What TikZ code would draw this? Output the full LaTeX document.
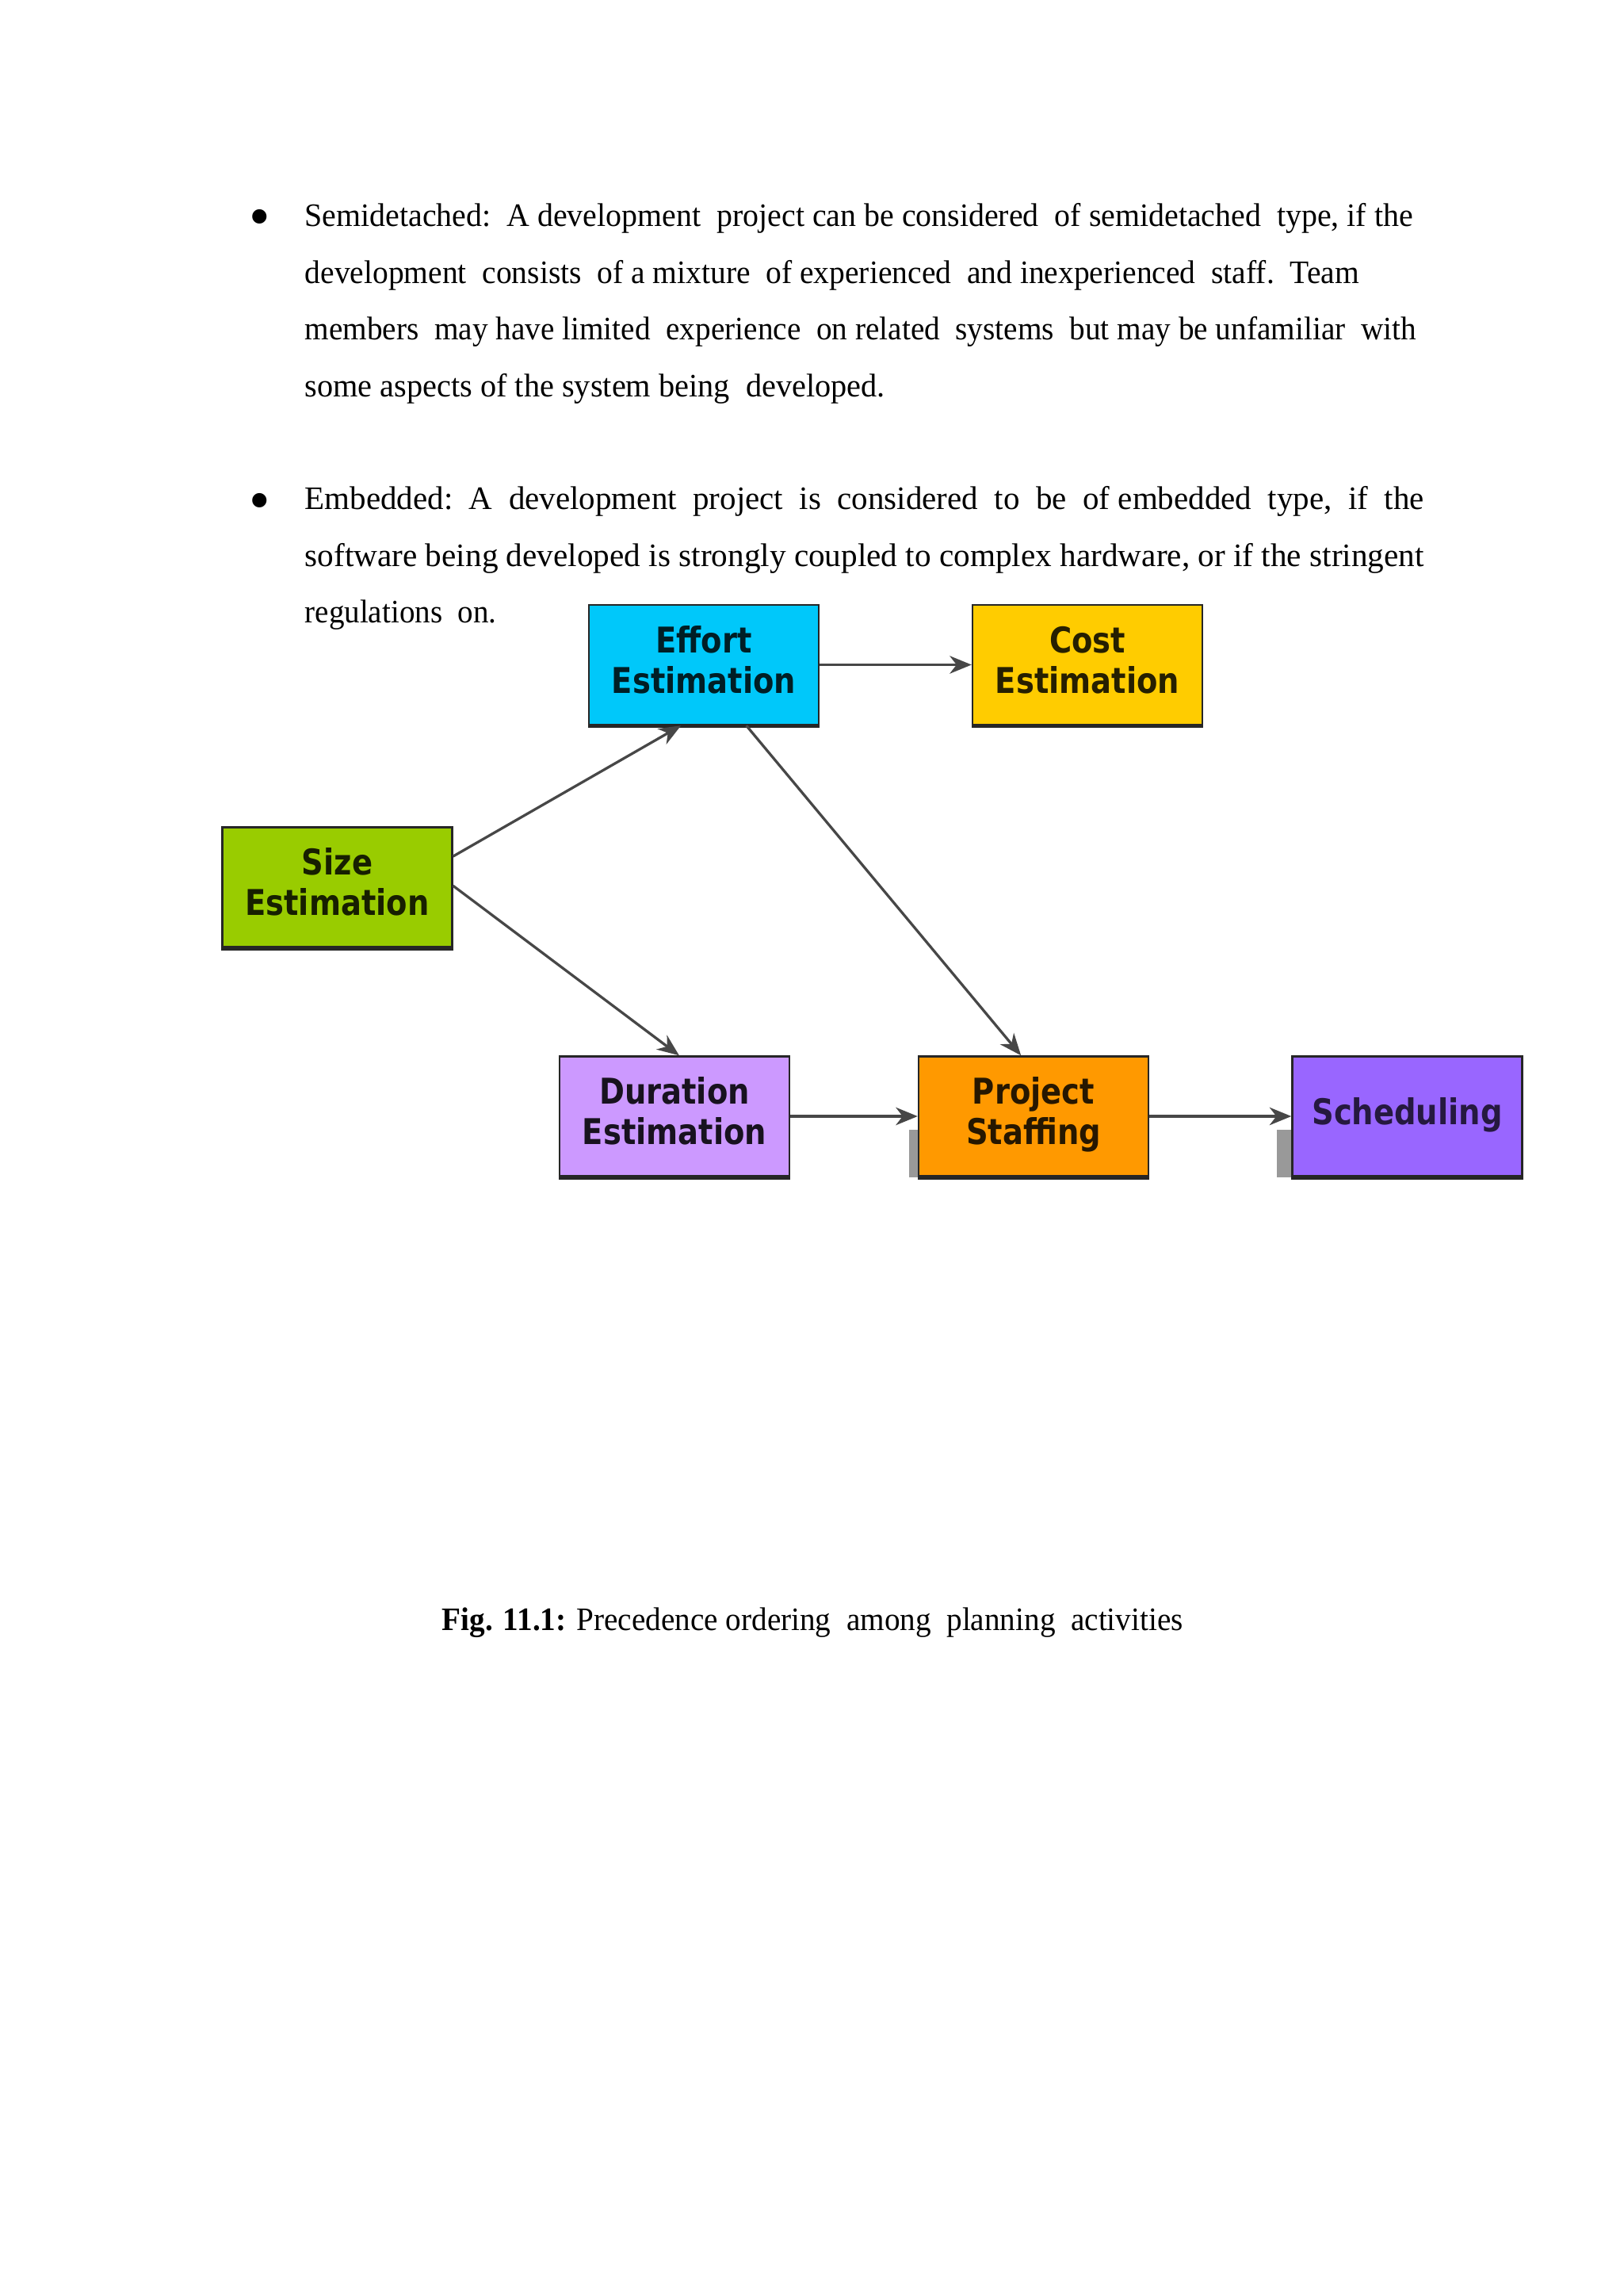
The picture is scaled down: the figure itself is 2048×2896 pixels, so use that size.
\documentclass[tikz,border=0pt]{standalone}
\usepackage{fontspec}
\setmainfont{Liberation Serif}
\newfontfamily\boxfont{DejaVu Sans}
\usepackage{graphicx}
\usetikzlibrary{arrows.meta,calc}
\newlength\pxu \setlength\pxu{0.29053pt}
\newcommand\fitline[2]{\resizebox{#1\pxu}{\height}{#2}}
\newcommand\blab[1]{\scalebox{0.86}[1]{\begin{tabular}{@{}c@{}}#1\end{tabular}}}
\definecolor{effc}{HTML}{00C8FA}
\definecolor{costc}{HTML}{FFCC00}
\definecolor{sizec}{HTML}{99CC00}
\definecolor{durc}{HTML}{CC99FF}
\definecolor{stafc}{HTML}{FF9900}
\definecolor{schc}{HTML}{9966FF}
\tikzset{
  pbox/.style={draw=black!85, line width=0.7pt, minimum width=84.25pt, minimum height=43.9pt,
    inner sep=0pt, font=\boxfont\bfseries\fontsize{13}{14.8}\selectfont},
  botline/.style={draw=black!85, line width=1.6pt},
  link/.style={draw=black!72, line width=0.95pt, -{Stealth[length=8pt,width=6.5pt,inset=2.5pt]}},
  bodytext/.style={anchor=base west, inner sep=0pt, font=\fontsize{12}{14}\selectfont},
  bul/.style={inner sep=0pt, font=\fontsize{22}{22}\selectfont},
  shade/.style={fill=black!40}
}
\begin{document}
\begin{tikzpicture}[x=0.29053pt,y=-0.29053pt]
\useasboundingbox[fill=white] (0,0) rectangle (2048,2896);

% body text
\node[bul] (b1) at (328,281) {•};
\node[bodytext] (l1) at (384,286) {\fitline{1398}{Semidetached:\ \ A development\ \ project can be considered\ \ of semidetached\ \ type,\ if the}};
\node[bodytext] (l2) at (384,357.5) {\fitline{1330}{development\ \ consists\ \ of a mixture\ \ of experienced\ \ and inexperienced\ \ staff.\ \ Team}};
\node[bodytext] (l3) at (384,429) {\fitline{1402}{members\ \ may have limited\ \ experience\ \ on related\ \ systems\ \ but\ may be unfamiliar\ \ with}};
\node[bodytext] (l4) at (384,500.5) {\fitline{732}{some\ aspects of the\ system\ being\ \ developed.}};
\node[bul] (b2) at (328,639) {•};
\node[bodytext] (l5) at (384,643) {\fitline{1412}{Embedded:\ \ A\ \ development\ \ project\ \ is\ \ considered\ \ to\ \ be\ \ of\ embedded\ \ type,\ \ if\ \ the}};
\node[bodytext] (l6) at (384,714.5) {\fitline{1412}{software being developed is strongly coupled to complex hardware, or if the stringent}};
\node[bodytext] (l7) at (384,786) {\fitline{242}{regulations\ \ on.}};

% boxes
\node[pbox, fill=effc, text=effc!15!black] (eff) at (888,838.5) {\blab{Effort\\Estimation}};
\node[pbox, fill=costc, text=costc!15!black] (cost) at (1372,838.5) {\blab{Cost\\Estimation}};
\node[pbox, fill=sizec, text=sizec!15!black] (size) at (425.5,1119) {\blab{Size\\Estimation}};
\node[pbox, fill=durc, text=durc!12!black] (dur) at (851,1408) {\blab{Duration\\Estimation}};
\node[pbox, fill=stafc, text=stafc!15!black] (staff) at (1304,1408) {\blab{Project\\Staffing}};
\node[pbox, fill=schc, text=schc!25!black] (sched) at (1775.5,1408) {\blab{Scheduling}};

\foreach \n in {eff,cost,size,dur,staff,sched}
  \draw[botline] (\n.south west) -- (\n.south east);

\fill[shade] ([xshift=-5.2pt]sched.south west) rectangle ([yshift=-5pt]sched.west);
\fill[shade] ([xshift=-3pt]staff.south west) rectangle ([yshift=-5pt]staff.west);

% connectors
\draw[link] (eff.east) -- (cost.west);
\draw[link] ([yshift=11.3pt]size.east) -- ([xshift=-8.4pt]eff.south);
\draw[link] ([yshift=0.5pt]size.east) -- ([xshift=1.7pt]dur.north);
\draw[link] ([xshift=15.6pt]eff.south) -- ([xshift=-4.6pt]staff.north);
\draw[link] (dur.east) -- (staff.west);
\draw[link] (staff.east) -- (sched.west);

% caption
\node[bodytext] (cap) at (557,2056) {\fitline{935}{\textbf{Fig. 11.1:} Precedence ordering\ \ among\ \ planning\ \ activities}};
\end{tikzpicture}
\end{document}
